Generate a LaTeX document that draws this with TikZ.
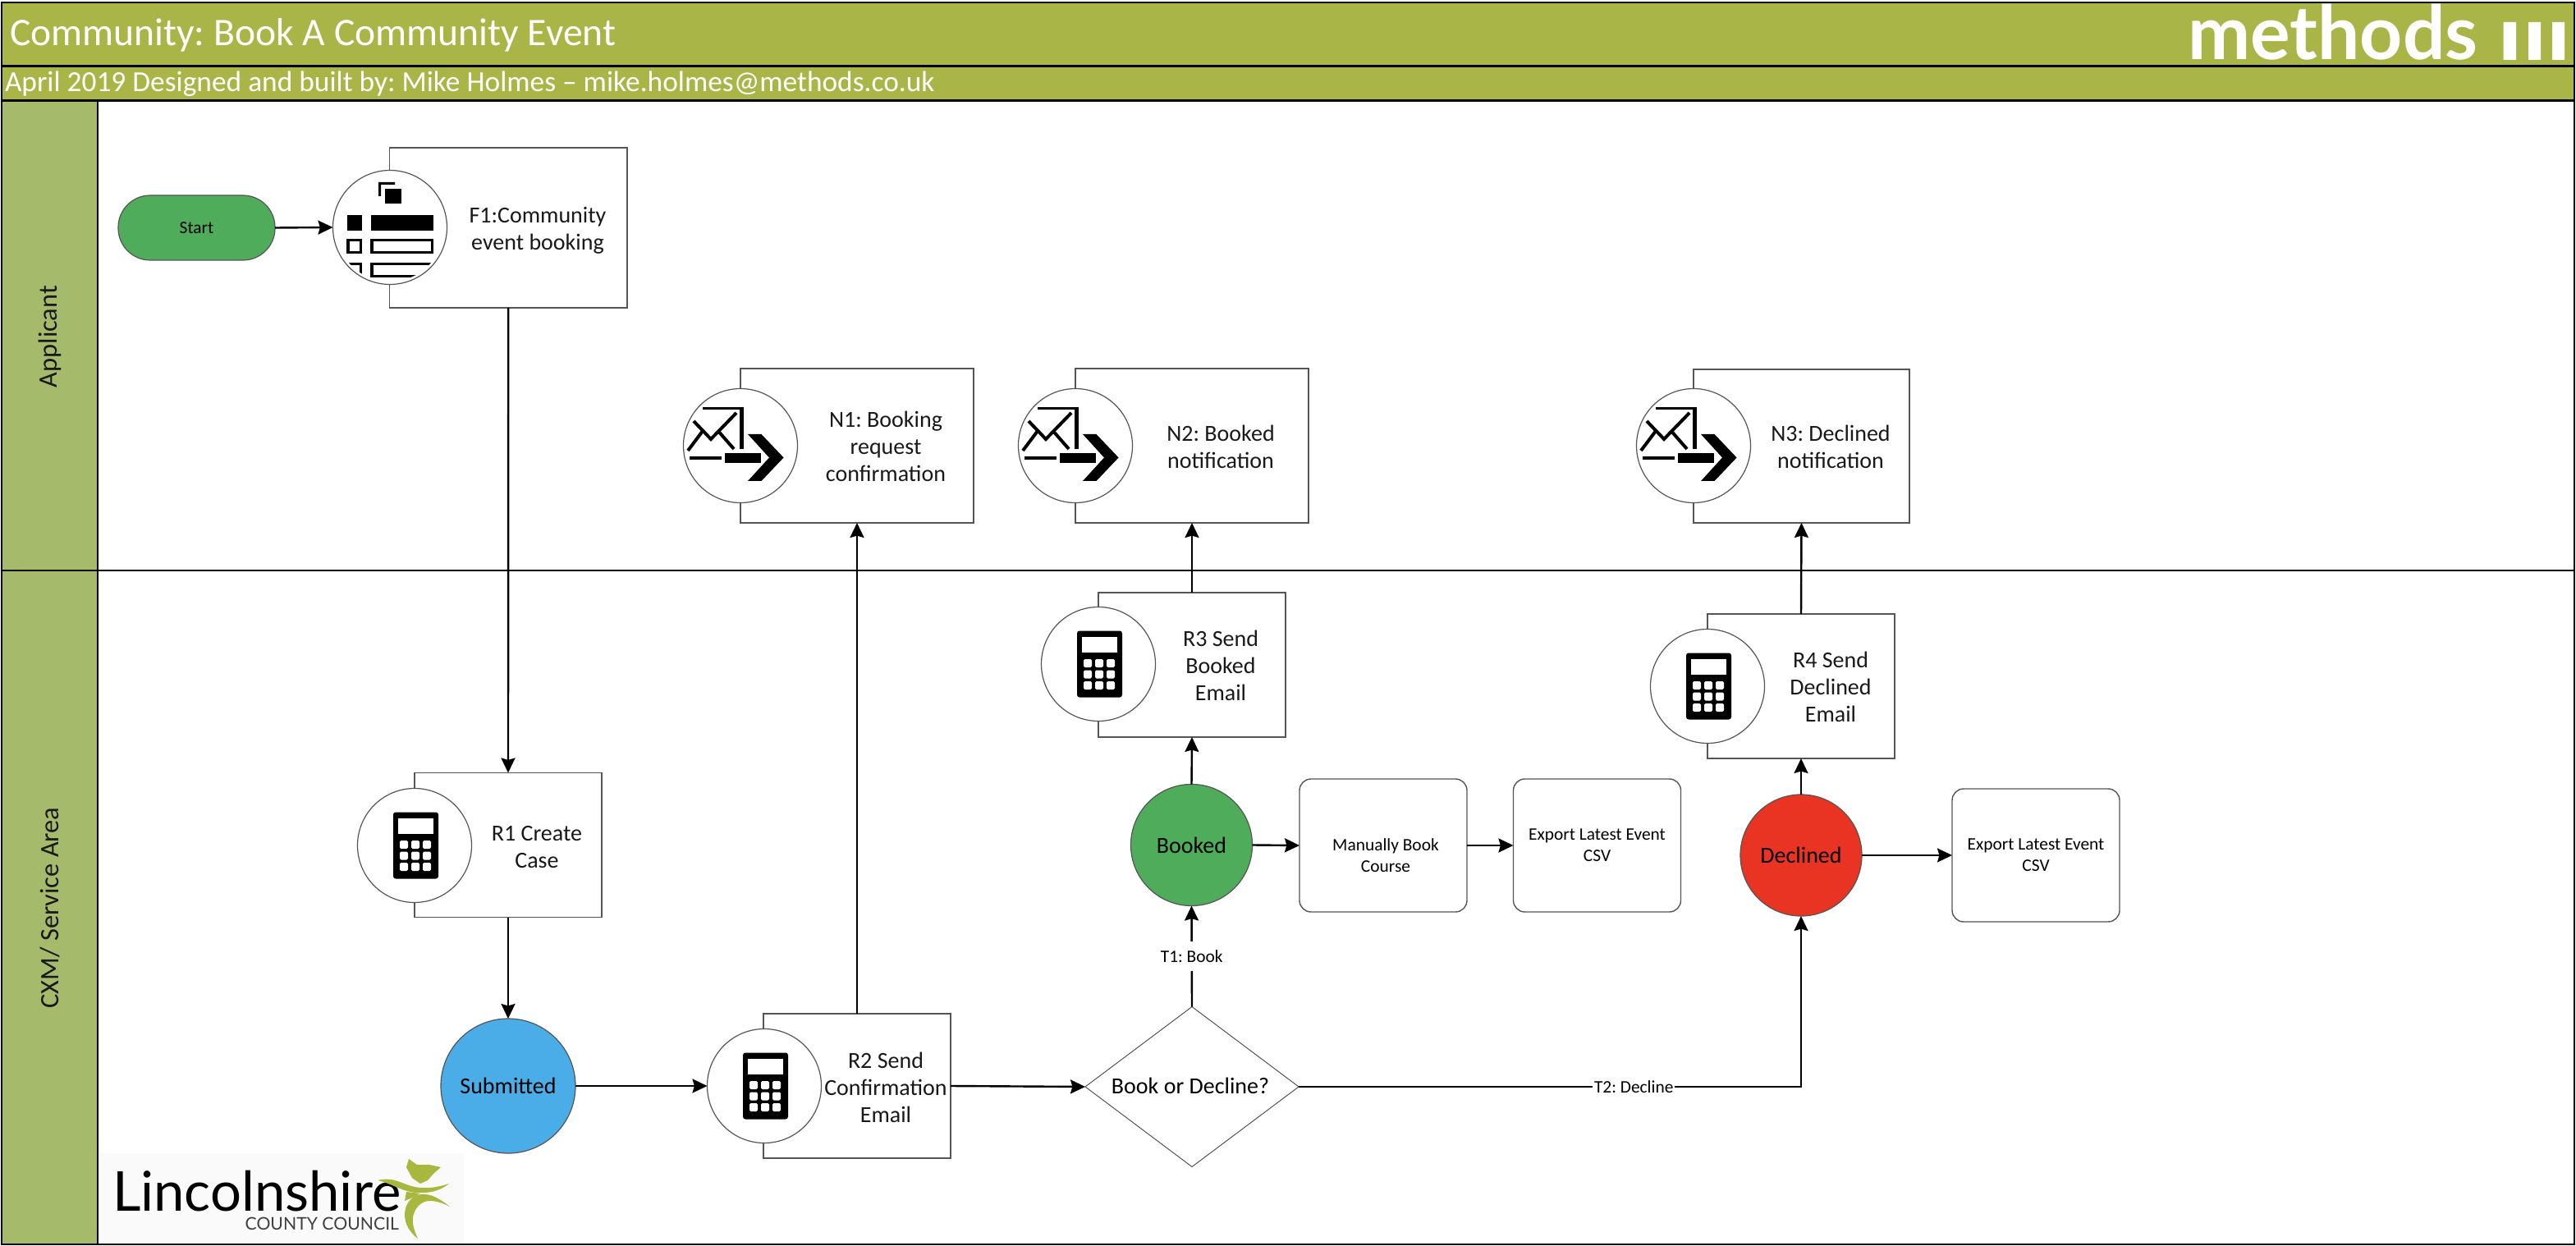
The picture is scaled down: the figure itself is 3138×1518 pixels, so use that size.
\documentclass[tikz,border=0pt]{standalone}
\usepackage{fontspec}
\setmainfont{Carlito}
\newfontfamily\lognf{Lato}
\usetikzlibrary{arrows.meta,shapes.geometric}
\AtBeginDocument{\frenchspacing}
\definecolor{bandgreen}{HTML}{A9B546}
\definecolor{lanegreen}{HTML}{A5BA6B}
\definecolor{startgreen}{HTML}{4FAC5B}
\definecolor{subblue}{HTML}{4AADE8}
\definecolor{declred}{HTML}{E93323}
\definecolor{crestgreen}{HTML}{A8B83E}
\definecolor{edgegrey}{HTML}{555555}
\tikzset{
  x=0.5pt,y=-0.5pt,
  every node/.style={inner sep=0pt,outer sep=0pt},
  link/.style={draw=black,line width=1.2pt,-{Stealth[length=9pt,width=8.5pt,inset=1.2pt]}},
  lanerule/.style={draw=black,line width=1.3pt},
  procbox/.style={draw=edgegrey,fill=white,line width=0.75pt,rectangle},
  softbox/.style={draw=edgegrey,fill=white,line width=0.7pt,rectangle,rounded corners=7pt,minimum width=102pt,align=center,font=\smalltxt},
  iconring/.style={draw=edgegrey,fill=white,line width=0.6pt,circle,minimum size=69.5pt},
  statedisc/.style={draw=edgegrey,line width=0.6pt,circle,font=\bodytxt},
  bodylabel/.style={font=\bodytxt,align=center,text=black!90},
  calcicon/.pic={
    \fill[black,rounded corners=1.5pt] (-26,-40.5) rectangle (29,40.5);
    \fill[white] (-20.3,-33) rectangle (23,-14);
    \foreach \cx in {-13,1,15} \foreach \cy in {-1,12.5,26}
      \fill[white,rounded corners=0.8pt] (\cx-5,\cy-5) rectangle (\cx+5,\cy+5);
  },
  mailicon/.pic={
    \fill[black] (-46,-47) rectangle (3.6,-43.5);
    \fill[black] (-1.5,-47) rectangle (3.6,4);
    \draw[black,line width=2pt,line join=miter] (-57,-30) -- (-36,-8) -- (-5,-40);
    \draw[black,line width=2pt] (-64,6) -- (-46,-18);
    \draw[black,line width=2pt] (-25.5,-16) -- (-8,4);
    \fill[black] (-62,13) rectangle (-23,17);
    \fill[black] (-19,9) rectangle (25,21);
    \fill[black] (9,-14) -- (25.5,-14) -- (52.6,14.5) -- (25.5,43) -- (9,43) -- (35,14.5) -- cycle;
  },
  formicon/.pic={
    \fill[black] (-6,-47) rectangle (14,-29);
    \fill[black] (-14,-55) -- (6,-55) -- (6,-52) -- (-11,-52) -- (-11,-38) -- (-14,-38) -- cycle;
    \fill[black] (-52.5,-15) rectangle (-34,4);
    \fill[black] (-23.5,-15) rectangle (53,4);
    \draw[black,line width=1.6pt] (-51,15.5) rectangle (-35.5,30.5);
    \draw[black,line width=1.6pt] (-22,15.5) rectangle (51.5,30.5);
    \begin{scope}
      \clip (0,0) circle (66);
      \draw[black,line width=1.6pt] (-51,44.5) rectangle (-35.5,59.5);
      \draw[black,line width=1.6pt] (-22,44.5) rectangle (51.5,59.5);
    \end{scope}
  }
}
\newcommand{\bodytxt}{\fontsize{14}{16.5}\selectfont}
\newcommand{\smalltxt}{\fontsize{10.7}{13}\selectfont}
\begin{document}
\begin{tikzpicture}
\useasboundingbox (0,0) rectangle (3138,1518);
\fill[white] (0,0) rectangle (3138,1518);
% header bands and lanes
\fill[bandgreen] (2,3) rectangle (3136,122);
\fill[lanegreen] (2,122) rectangle (119,1516);
\node[anchor=west,text=white,font=\fontsize{23.8}{28}\selectfont] (title) at (12,43) {Community: Book A Community Event};
\node[anchor=west,text=white,font=\fontsize{17.7}{23}\selectfont] (subtitle) at (6,102) {April 2019 Designed and built by: Mike Holmes -- mike.holmes@methods.co.uk};
\node[anchor=base west,text=white,font=\lognf\bfseries\fontsize{45.5}{50}\selectfont] (methods) at (2665,73) {methods};
\fill[white] (3049.5,27) rectangle (3065,73) (3080,27) rectangle (3095,73) (3109,27) rectangle (3124,73);
\draw[lanerule] (2,80.5) -- (3136,80.5);
\draw[lanerule] (2,122.5) -- (3136,122.5);
\draw[lanerule] (119,122.5) -- (119,1516);
\draw[lanerule] (2,695) -- (3136,695);
\draw[lanerule] (2,3) rectangle (3136,1516);
\node[rotate=90,font=\fontsize{16.2}{20}\selectfont,text=black!90] (lane1) at (61,410) {Applicant};
\node[rotate=90,font=\fontsize{16.2}{20}\selectfont,text=black!90] (lane2) at (61,1106) {CXM/ Service Area};
% logo
\fill[black!2] (122,1405) rectangle (565,1514);
\node[anchor=base west,font=\lognf\fontsize{33.5}{36}\selectfont,text=black] (lincs) at (137,1475) {Lincolnshire};
\node[anchor=base east,font=\lognf\fontsize{10.6}{12}\selectfont,text=black!75] (county) at (486,1498) {COUNTY COUNCIL};
\fill[crestgreen] (498,1412) -- (508,1419) -- (523,1419) -- (537,1422) -- (528,1430) -- (521,1438) -- (512,1442) -- (502,1435) -- (495,1422) -- cycle;
\fill[crestgreen] (460,1438) .. controls (480,1433) and (490,1443) .. (505,1446) .. controls (520,1449) and (535,1446) .. (547,1442) .. controls (535,1452) and (520,1454) .. (507,1453) .. controls (490,1452) and (478,1442) .. (460,1438) -- cycle;
\fill[crestgreen] (495,1452) -- (512,1454) -- (505,1458) -- (493,1463) -- cycle;
\fill[crestgreen] (548,1470) .. controls (535,1460) and (525,1454) .. (513,1455) .. controls (500,1457) and (493,1468) .. (493,1480) .. controls (493,1492) and (500,1502) .. (509,1509) .. controls (504,1498) and (502,1490) .. (503,1483) .. controls (505,1470) and (515,1463) .. (523,1463) .. controls (532,1463) and (540,1466) .. (548,1470) -- cycle;
% process boxes
\node[procbox,minimum width=144.75pt,minimum height=97.5pt] (f1) at (619.25,277.5) {};
\node[procbox,minimum width=142pt,minimum height=94pt] (n1) at (1044,543) {};
\node[procbox,minimum width=142pt,minimum height=94pt] (n2) at (1452,543) {};
\node[procbox,minimum width=131.5pt,minimum height=93.5pt] (n3) at (2194.5,543.5) {};
\node[procbox,minimum width=114pt,minimum height=88pt] (r1) at (619,1029.5) {};
\node[procbox,minimum width=114pt,minimum height=88pt] (r2) at (1044,1323) {};
\node[procbox,minimum width=114pt,minimum height=88pt] (r3) at (1452,810) {};
\node[procbox,minimum width=114pt,minimum height=88pt] (r4) at (2194,836) {};
% icon rings
\node[iconring] (f1c) at (475,277) {};
\node[iconring] (n1c) at (902,543) {};
\node[iconring] (n2c) at (1310,543) {};
\node[iconring] (n3c) at (2063,543) {};
\node[iconring] (r1c) at (505,1030) {};
\node[iconring] (r2c) at (931,1323) {};
\node[iconring] (r3c) at (1338,809) {};
\node[iconring] (r4c) at (2080,836) {};
\pic at (475,277) {formicon};
\pic at (902,543) {mailicon};
\pic at (1310,543) {mailicon};
\pic at (2063,543) {mailicon};
\pic at (505,1030) {calcicon};
\pic at (931,1323) {calcicon};
\pic at (1338,809) {calcicon};
\pic at (2080,836) {calcicon};
% box labels
\node[bodylabel] (f1t) at (655,281) {F1:Community\\event booking};
\node[bodylabel] (n1t) at (1079,544) {N1: Booking\\request\\confirmation};
\node[bodylabel] (n2t) at (1487,544) {N2: Booked\\notification};
\node[bodylabel] (n3t) at (2230,544) {N3: Declined\\notification};
\node[bodylabel] (r1t) at (654,1032) {R1 Create\\Case};
\node[bodylabel] (r2t) at (1079,1325) {R2 Send\\Confirmation\\Email};
\node[bodylabel] (r3t) at (1487,811) {R3 Send\\Booked\\Email};
\node[bodylabel] (r4t) at (2230,837) {R4 Send\\Declined\\Email};
% flow shapes
\node[draw=edgegrey,fill=startgreen,line width=0.6pt,rectangle,rounded corners=19.5pt,minimum width=95.5pt,minimum height=39.5pt,font=\smalltxt] (start) at (239.5,277.5) {Start};
\node[statedisc,fill=subblue,minimum size=82pt] (submitted) at (619,1323) {Submitted};
\node[statedisc,fill=startgreen,minimum size=74pt] (booked) at (1451.5,1029.5) {Booked};
\node[statedisc,fill=declred,minimum size=74pt] (declined) at (2194,1042) {Declined};
\path (1452,1324) node[draw=edgegrey,line width=0.5pt,fill=white,diamond,aspect=1.33,minimum width=130pt,minimum height=97.5pt,font=\bodytxt] (decide) {};
\node[font=\bodytxt] (decidet) at (1450,1323) {Book or Decline?};
\node[softbox,minimum height=81pt] (manual) at (1685,1030) {};
\node[font=\smalltxt,align=center] (manualt) at (1688,1042) {Manually Book\\Course};
\node[softbox,minimum height=81pt] (export1) at (1945.5,1030) {Export Latest Event\\CSV};
\node[softbox,minimum height=81pt] (export2) at (2480,1042) {Export Latest Event\\CSV};
% connectors
\draw[link] (start.east) -- (f1c.west);
\draw[link] (f1.south) -- (r1.north);
\draw[link] (r1.south) -- (submitted.north);
\draw[link] (submitted.east) -- (r2c.west);
\draw[link] (r2.east) -- (decide.west);
\draw[link] (r2.north) -- (n1.south);
\draw[link] (decide.north) -- node[fill=white,font=\smalltxt,inner ysep=5pt,inner xsep=1pt] (t1) {T1: Book} (booked.south);
\draw[link] (booked.north) -- (r3.south);
\draw[link] (r3.north) -- (n2.south);
\draw[link] (booked.east) -- (manual.west);
\draw[link] (manual.east) -- (export1.west);
\draw[link] (decide.east) -- node[pos=0.667,fill=white,font=\smalltxt,inner xsep=1pt,inner ysep=2pt] (t2) {T2: Decline} (decide.east -| declined.south) -- (declined.south);
\draw[link] (declined.north) -- (r4.south);
\draw[link] (r4.north) -- (n3.south);
\draw[link] (declined.east) -- (export2.west);
\end{tikzpicture}
\end{document}
